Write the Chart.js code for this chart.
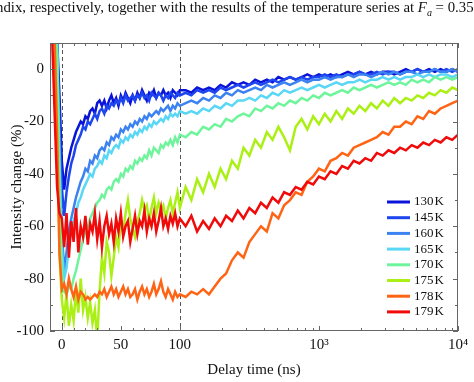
<!DOCTYPE html>
<html>
<head>
<meta charset="utf-8">
<script src="https://cdn.jsdelivr.net/npm/chart.js@4.4.1/dist/chart.umd.min.js"></script>
<style>
  html, body { margin: 0; padding: 0; background: #fff; }
  #wrap { position: relative; width: 474px; height: 382px; overflow: hidden; }
  #head { position: absolute; left: -4px; top: -3px; white-space: nowrap;
          font: 14.8px "Liberation Serif", "Times New Roman", serif; color: #111; line-height: 20px; }
  canvas { position: absolute; left: 0; top: 0; }
</style>
</head>
<body>
<div id="wrap">
  <canvas id="chart" width="474" height="382"></canvas>
  <div id="head">ndix, respectively, together with the results of the temperature series at <i>F</i><sub style="font-size:10px"><i>a</i></sub> = 0.35</div>
</div>
<script>
// delay times (ns): linear part -10..100, then log part up to 1e4
const times = [
  -10, -8, -6, -4, -2, 0, 2, 4, 6, 8, 10, 12, 14, 16, 18, 20, 22, 24, 26, 28,
  30, 32, 34, 36, 38, 40, 42, 44, 46, 48, 50, 52, 54, 56, 58, 60, 62, 64, 66, 68,
  70, 72, 74, 76, 78, 80, 82, 84, 86, 88, 90, 92, 94, 96, 98, 100,
  110, 121, 133, 147, 162, 178, 196, 215, 237, 261, 287, 316, 348, 383, 422, 464,
  511, 562, 619, 681, 750, 825, 909, 1000, 1101, 1212, 1334, 1468, 1616, 1778, 1957, 2154,
  2371, 2610, 2873, 3162, 3481, 3831, 4217, 4642, 5109, 5623, 6190, 6813, 7499, 8254, 9085, 10000
];

const labels = ['130\u200aK', '145\u200aK', '160\u200aK', '165\u200aK', '170\u200aK', '175\u200aK', '178\u200aK', '179\u200aK'];
const colors = ['#0a14d8', '#1e46f0', '#3c82f0', '#5ad7f5', '#6ef59b', '#aaf014', '#ff6414', '#f00a0a'];

const k130 = [
  20, 20, 18, 12, -10, -35, -46, -38,
  -34, -30, -27, -24, -22, -20, -21, -18,
  -19, -16, -15, -17, -13, -12, -14, -12,
  -15, -12, -10, -13, -11, -14, -10, -12,
  -9, -11, -13, -10, -12, -9, -11, -8,
  -10, -12, -9, -10, -8, -11, -9, -10,
  -8, -10, -9, -11, -8, -9, -10, -8,
  -8, -9, -7, -8, -7, -8, -6, -7,
  -5, -6, -5, -6, -4, -5, -4, -5,
  -3, -4, -3, -4, -3, -2, -3, -2,
  -3, -2, -3, -2, -1, -2, -1, -2,
  -1, -2, -1, -1, -2, -1, 0, -1,
  0, -1, 0, -1, 0, -1, 0, -1
];
const k145 = [
  20, 20, 18, 10, -20, -45, -56, -47,
  -41, -36, -33, -29, -27, -25, -22, -23,
  -20, -21, -19, -17, -19, -16, -15, -17,
  -14, -15, -13, -14, -12, -13, -11, -13,
  -10, -12, -11, -10, -12, -10, -11, -9,
  -11, -10, -12, -9, -10, -11, -9, -10,
  -12, -10, -11, -9, -10, -11, -9, -10,
  -9, -10, -8, -9, -8, -9, -7, -8,
  -7, -6, -7, -6, -5, -6, -5, -4,
  -5, -4, -3, -4, -3, -4, -3, -3,
  -2, -3, -2, -3, -2, -2, -1, -2,
  -2, -1, -2, -1, -1, -2, -1, -1,
  0, -1, -1, 0, -1, 0, -1, 0
];
const k160 = [
  20, 20, 18, 10, -30, -62, -77, -70,
  -62, -57, -53, -49, -46, -43, -41, -38,
  -39, -35, -36, -33, -34, -31, -30, -31,
  -28, -29, -26, -27, -25, -26, -23, -24,
  -22, -23, -21, -22, -20, -21, -19, -20,
  -18, -19, -17, -18, -17, -16, -17, -15,
  -16, -15, -14, -16, -14, -15, -13, -14,
  -13, -12, -13, -11, -12, -10, -11, -9,
  -10, -8, -9, -8, -7, -8, -6, -7,
  -6, -5, -6, -5, -4, -5, -4, -4,
  -3, -4, -3, -3, -2, -3, -2, -2,
  -3, -2, -1, -2, -1, -2, -1, -1,
  -2, -1, -1, 0, -1, -1, 0, -1
];
const k165 = [
  20, 20, 18, 10, -35, -68, -80, -76,
  -68, -62, -58, -55, -51, -49, -46, -44,
  -42, -40, -41, -38, -37, -35, -36, -33,
  -34, -31, -32, -30, -29, -30, -27, -28,
  -26, -27, -25, -26, -24, -25, -23, -24,
  -22, -23, -21, -22, -20, -21, -20, -19,
  -20, -18, -19, -17, -18, -17, -18, -16,
  -17, -16, -17, -15, -16, -14, -15, -13,
  -14, -12, -12, -11, -12, -10, -11, -9,
  -10, -8, -9, -8, -7, -8, -7, -6,
  -7, -6, -5, -6, -5, -5, -4, -5,
  -4, -4, -3, -4, -3, -4, -3, -3,
  -2, -3, -2, -3, -2, -2, -3, -2
];
const k170 = [
  20, 20, 18, 5, -45, -78, -85, -86,
  -83, -84, -80, -77, -73, -69, -65, -62,
  -60, -57, -55, -53, -51, -50, -48, -49,
  -46, -45, -46, -43, -42, -43, -40, -41,
  -38, -39, -37, -38, -35, -36, -34, -35,
  -33, -34, -31, -33, -30, -31, -32, -29,
  -30, -28, -29, -27, -29, -26, -28, -25,
  -26, -24, -25, -22, -23, -21, -22, -19,
  -20, -18, -17, -18, -15, -16, -14, -15,
  -13, -14, -12, -13, -11, -12, -10, -11,
  -9, -10, -9, -8, -9, -7, -8, -7,
  -6, -7, -6, -5, -6, -5, -6, -4,
  -5, -4, -5, -3, -4, -3, -4, -3
];
const k175 = [
  20, 20, 10, -20, -70, -88, -95, -86,
  -98, -90, -96, -85, -93, -80, -92, -87,
  -95, -89, -97, -92, -103, -85, -72, -78,
  -66, -70, -79, -72, -64, -68, -58, -62,
  -55, -50, -57, -61, -64, -58, -55, -50,
  -54, -52, -58, -53, -49, -55, -51, -54,
  -52, -57, -53, -50, -55, -51, -47, -53,
  -45, -50, -42, -47, -40, -45, -38, -42,
  -35, -38, -30, -33, -27, -30, -24, -27,
  -22, -26, -31, -22, -19, -23, -18, -21,
  -17, -20, -16, -19, -15, -17, -14, -16,
  -13, -15, -12, -14, -11, -13, -11, -12,
  -10, -11, -9, -10, -8, -9, -7, -8
];
const k178 = [
  20, 20, 10, -25, -70, -84, -82, -86,
  -80, -84, -87, -83, -88, -85, -86, -88,
  -87, -88, -87, -86, -87, -85, -86, -84,
  -87, -85, -83, -86, -84, -87, -85, -83,
  -86, -84, -87, -86, -84, -88, -85, -83,
  -86, -84, -87, -85, -82, -86, -84, -81,
  -85, -87, -84, -86, -88, -85, -87, -86,
  -87, -85, -86, -84, -86, -83, -80, -78,
  -73, -70, -72, -66, -63, -60, -62, -55,
  -57, -52, -50, -47, -48, -43, -41, -38,
  -39, -35, -34, -32, -33, -30, -29, -28,
  -27, -26, -24, -25, -22, -22, -20, -21,
  -18, -19, -16, -17, -15, -14, -13, -12
];
const k179 = [
  20, 10, -18, -45, -55, -57, -68, -55,
  -72, -58, -66, -53, -70, -60, -64, -56,
  -67, -59, -62, -55, -65, -58, -68, -60,
  -56, -63, -59, -66, -57, -62, -55, -64,
  -60, -58, -66, -61, -56, -63, -58, -60,
  -54, -62, -57, -60, -55, -62, -58, -53,
  -60, -57, -61, -56, -59, -55, -60, -57,
  -60, -56, -62, -58, -61, -57, -60, -56,
  -58, -54, -57, -53, -55, -51, -53, -49,
  -51, -47, -48, -45, -46, -43, -44, -41,
  -42, -39, -40, -37, -38, -35, -36, -34,
  -35, -32, -33, -31, -32, -30, -31, -29,
  -30, -28, -29, -27, -28, -26, -27, -25
];
const series = [k130, k145, k160, k165, k170, k175, k178, k179];

// x ticks: labelled majors plus minor marks
const xMajor = [0, 50, 100, 1000, 10000];
const xMinor = [10, 20, 30, 40, 60, 70, 80, 90, 200, 300, 400, 500, 600, 700, 800, 900,
  2000, 3000, 4000, 5000, 6000, 7000, 8000, 9000];
const xLabels = { 0: '0', 50: '50', 100: '100', 1000: '10³', 10000: '10⁴' };

const SERIF = '"Liberation Serif", "Times New Roman", serif';

// linear below 100 ns, logarithmic above
const DECADE = 117.8;
const fwd = v => v <= 100 ? v : 100 + DECADE * Math.log10(v / 100);
const inv = u => u <= 100 ? u : 100 * Math.pow(10, (u - 100) / DECADE);

class LinLogScale extends Chart.LinearScale {
  buildTicks() {
    return xMajor.concat(xMinor).sort((a, b) => a - b).map(v => ({ value: v }));
  }
  getPixelForValue(v) {
    const a = fwd(this.min), b = fwd(this.max);
    return this.getPixelForDecimal((fwd(v) - a) / (b - a));
  }
  getValueForPixel(p) {
    const a = fwd(this.min), b = fwd(this.max);
    return inv(a + this.getDecimalForPixel(p) * (b - a));
  }
}
LinLogScale.id = 'linlog';
Chart.register(LinLogScale);

const framePlugin = {
  id: 'frame',
  beforeDatasetsDraw(chart) {
    const { ctx, chartArea: a, scales: { x } } = chart;
    ctx.save();
    ctx.strokeStyle = '#555';
    ctx.lineWidth = 1;
    ctx.setLineDash([4, 3]);
    [0, 100].forEach(v => {
      const px = Math.round(x.getPixelForValue(v)) + 0.5;
      ctx.beginPath(); ctx.moveTo(px, a.top); ctx.lineTo(px, a.bottom); ctx.stroke();
    });
    ctx.restore();
  },
  afterDatasetsDraw(chart) {
    const { ctx, chartArea: a, scales: { x, y } } = chart;
    ctx.save();
    ctx.strokeStyle = '#666';
    ctx.lineWidth = 1;
    ctx.strokeRect(a.left + 0.5, a.top + 0.5, a.right - a.left - 1, a.bottom - a.top - 1);
    ctx.beginPath();
    x.ticks.forEach(t => {
      const px = Math.round(x.getPixelForValue(t.value)) + 0.5;
      const len = xLabels[t.value] !== undefined ? 5 : 3;
      ctx.moveTo(px, a.bottom); ctx.lineTo(px, a.bottom - len);
      ctx.moveTo(px, a.top); ctx.lineTo(px, a.top + len);
    });
    y.ticks.forEach(t => {
      const py = Math.round(y.getPixelForValue(t.value)) + 0.5;
      const len = t.value % 20 === 0 ? 5 : 3;
      ctx.moveTo(a.left, py); ctx.lineTo(a.left + len, py);
      ctx.moveTo(a.right, py); ctx.lineTo(a.right - len, py);
    });
    ctx.stroke();

    // legend inside the plot, lower right
    ctx.font = '13px ' + SERIF;
    ctx.textBaseline = 'middle';
    ctx.fillStyle = '#111';
    chart.data.datasets.forEach((ds, i) => {
      const yy = 202 + i * 15.7;
      ctx.strokeStyle = ds.borderColor;
      ctx.lineWidth = 3;
      ctx.beginPath(); ctx.moveTo(387, yy); ctx.lineTo(410, yy); ctx.stroke();
      ctx.fillText(ds.label, 414, yy);
    });
    ctx.restore();
  }
};

new Chart(document.getElementById('chart'), {
  type: 'line',
  data: {
    datasets: series.map((s, i) => ({
      label: labels[i],
      data: times.map((t, j) => ({ x: t, y: s[j] })),
      borderColor: colors[i],
      borderWidth: 2.5,
      pointRadius: 0,
      tension: 0,
      order: series.length - i,
      clip: 0
    }))
  },
  options: {
    responsive: false,
    animation: false,
    events: [],
    layout: { padding: { left: 0, top: 43, right: 16, bottom: 0 } },
    plugins: { legend: { display: false }, tooltip: { enabled: false } },
    scales: {
      x: {
        type: 'linlog',
        min: -10,
        max: 10000,
        grid: { display: false, drawTicks: false },
        border: { display: false },
        ticks: {
          autoSkip: false,
          maxRotation: 0,
          padding: 5,
          color: '#111',
          font: { family: SERIF, size: 15 },
          callback: v => xLabels[v] !== undefined ? xLabels[v] : ''
        },
        title: { display: true, text: 'Delay time (ns)', color: '#111',
                 font: { family: SERIF, size: 15 }, padding: { top: 0, bottom: 3 } },
        afterFit: s => { s.height = 51; }
      },
      y: {
        min: -100,
        max: 10,
        grid: { display: false, drawTicks: false },
        border: { display: false },
        ticks: {
          stepSize: 10,
          autoSkip: false,
          padding: 6,
          color: '#111',
          font: { family: SERIF, size: 15 },
          callback: v => (v % 20 === 0 && v <= 0) ? String(v) : ''
        },
        title: { display: true, text: 'Intensity change (%)', color: '#111',
                 font: { family: SERIF, size: 15 }, padding: { top: 8, bottom: 0 } },
        afterFit: s => { s.width = 50; }
      }
    }
  },
  plugins: [framePlugin]
});
</script>
</body>
</html>
